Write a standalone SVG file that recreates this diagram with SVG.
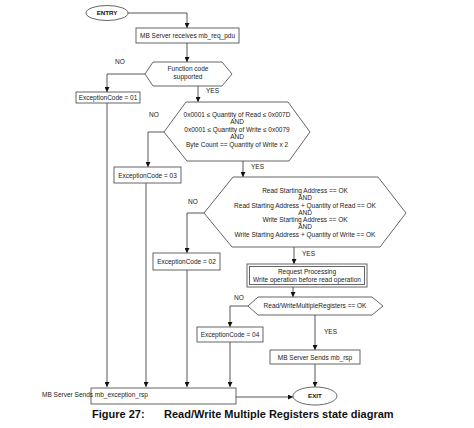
<svg xmlns="http://www.w3.org/2000/svg" width="474" height="428" viewBox="0 0 474 428">
<defs>
<marker id="ar" viewBox="0 0 10 10" refX="10" refY="5" markerWidth="5" markerHeight="5" orient="auto" markerUnits="userSpaceOnUse">
<path d="M0,0 L10,5 L0,10 z" fill="#111"/>
</marker>
<style>
.n{fill:#fff;stroke:#555;stroke-width:0.9}
.t{font-family:"Liberation Sans",Arial,sans-serif;font-size:6.5px;fill:#222;text-anchor:middle}
.b{font-family:"Liberation Sans",Arial,sans-serif;font-size:6.2px;font-weight:bold;fill:#111;text-anchor:middle}
.l{font-family:"Liberation Sans",Arial,sans-serif;font-size:6.5px;fill:#222}
.c{fill:none;stroke:#444;stroke-width:0.9}
.cap{font-family:"Liberation Sans",Arial,sans-serif;font-size:11px;font-weight:bold;fill:#111}
</style>
</defs>
<rect width="474" height="428" fill="#fff"/>
<g id="connectors">
<path class="c" d="M128,13 H187 V28" marker-end="url(#ar)"/>
<path class="c" d="M187,43 V62" marker-end="url(#ar)"/>
<path class="c" d="M145,74 H107 V92" marker-end="url(#ar)"/>
<path class="c" d="M198,86 V102" marker-end="url(#ar)"/>
<path class="c" d="M164,132 H148 V167" marker-end="url(#ar)"/>
<path class="c" d="M243,161 V177" marker-end="url(#ar)"/>
<path class="c" d="M204,213 H187 V253" marker-end="url(#ar)"/>
<path class="c" d="M294,247 V264" marker-end="url(#ar)"/>
<path class="c" d="M293,287 V297" marker-end="url(#ar)"/>
<path class="c" d="M248,306 H230 V327" marker-end="url(#ar)"/>
<path class="c" d="M315,315 V350" marker-end="url(#ar)"/>
<path class="c" d="M315,364 V387" marker-end="url(#ar)"/>
<path class="c" d="M107,103 V387" marker-end="url(#ar)"/>
<path class="c" d="M146,183 V387" marker-end="url(#ar)"/>
<path class="c" d="M187,270 V387" marker-end="url(#ar)"/>
<path class="c" d="M230,342 V387" marker-end="url(#ar)"/>
<path class="c" d="M236,397 H293" marker-end="url(#ar)"/>
<text class="l" x="115" y="64">NO</text>
<text class="l" x="206" y="93">YES</text>
<text class="l" x="149" y="117">NO</text>
<text class="l" x="251" y="169">YES</text>
<text class="l" x="188" y="204">NO</text>
<text class="l" x="302" y="256">YES</text>
<text class="l" x="234" y="300">NO</text>
<text class="l" x="324" y="334">YES</text>
</g>
<g id="entry">
<ellipse class="n" cx="107" cy="13" rx="21" ry="7.5"/>
<text class="b" x="107" y="15.3">ENTRY</text>
</g>
<g id="receive">
<rect class="n" x="136" y="28" width="103" height="15"/>
<text class="t" x="187.5" y="38">MB Server receives mb_req_pdu</text>
</g>
<g id="fc-supported">
<polygon class="n" points="145,74 153,62 222,62 232,74 222,86 153,86"/>
<text class="t" x="188" y="71">Function code</text>
<text class="t" x="188" y="79">supported</text>
</g>
<g id="exc01">
<rect class="n" x="76" y="92" width="64" height="11"/>
<text class="t" x="108" y="100">ExceptionCode = 01</text>
</g>
<g id="qty-check">
<polygon class="n" points="164,132 186,102 288,102 310,132 289,161 187,161"/>
<text class="t" x="237" y="117">0x0001 ≤ Quantity of Read ≤ 0x007D</text>
<text class="t" x="237" y="124">AND</text>
<text class="t" x="237" y="132">0x0001 ≤ Quantity of Write ≤ 0x0079</text>
<text class="t" x="237" y="139">AND</text>
<text class="t" x="237" y="147">Byte Count == Quantity of Write x 2</text>
</g>
<g id="exc03">
<rect class="n" x="114" y="167" width="67" height="16"/>
<text class="t" x="147.5" y="177.5">ExceptionCode = 03</text>
</g>
<g id="addr-check">
<polygon class="n" points="204,213 233,177 378,177 406,213 380,247 232,247"/>
<text class="t" x="305" y="193">Read Starting Address == OK</text>
<text class="t" x="305" y="200">AND</text>
<text class="t" x="305" y="208">Read Starting Address + Quantity of Read == OK</text>
<text class="t" x="305" y="214.5">AND</text>
<text class="t" x="305" y="222">Write Starting Address == OK</text>
<text class="t" x="305" y="229">AND</text>
<text class="t" x="305" y="236.5">Write Starting Address + Quantity of Write == OK</text>
</g>
<g id="exc02">
<rect class="n" x="153" y="253" width="67" height="17"/>
<text class="t" x="186.5" y="264">ExceptionCode = 02</text>
</g>
<g id="processing">
<rect class="n" x="247" y="264" width="120" height="23" stroke-width="1.2"/>
<rect x="249.5" y="266.5" width="115" height="18" fill="none" stroke="#555" stroke-width="0.9"/>
<text class="t" x="307" y="274">Request Processing</text>
<text class="t" x="307" y="282">Write operation before read operation</text>
</g>
<g id="rw-ok">
<polygon class="n" points="248,306 258,297 372,297 383,306 372,315 258,315"/>
<text class="t" x="315" y="308">Read/WriteMultipleRegisters == OK</text>
</g>
<g id="exc04">
<rect class="n" x="197" y="327" width="66" height="15"/>
<text class="t" x="230" y="337">ExceptionCode = 04</text>
</g>
<g id="send-rsp">
<rect class="n" x="270" y="350" width="90" height="14"/>
<text class="t" x="315" y="359.5">MB Server Sends mb_rsp</text>
</g>
<g id="send-exc">
<rect class="n" x="91" y="388" width="145" height="16"/>
<text class="t" x="95" y="397" text-anchor="start">MB Server Sends mb_exception_rsp</text>
</g>
<g id="exit">
<ellipse class="n" cx="315" cy="396" rx="22" ry="9"/>
<text class="b" x="315" y="398.3">EXIT</text>
</g>
<text class="cap" x="92" y="418">Figure 27:</text>
<text class="cap" x="164" y="418">Read/Write Multiple Registers state diagram</text>
</svg>
